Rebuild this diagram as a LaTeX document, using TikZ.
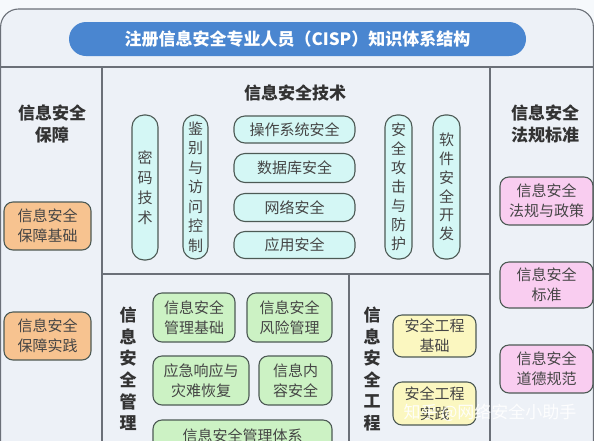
\documentclass[tikz,border=0pt]{standalone}
\usepackage{fontspec}
\newfontfamily\cjk{Noto Sans CJK SC}
\definecolor{bgfr}{HTML}{EDF1F7}
\definecolor{bgtop}{HTML}{F6F9FC}
\definecolor{frline}{HTML}{6B7078}
\definecolor{titleblue}{HTML}{4A86D0}
\definecolor{bdr}{HTML}{4D5A55}
\definecolor{fcyan}{HTML}{D4F7F5}
\definecolor{fgreen}{HTML}{CCF2C4}
\definecolor{fyellow}{HTML}{FBF7C0}
\definecolor{fpink}{HTML}{F9CDF0}
\definecolor{forange}{HTML}{F7C390}
\definecolor{txt}{HTML}{454545}
\definecolor{head}{HTML}{333333}
\tikzset{
  frame/.style={draw=frline, line width=1.1pt},
  boxbase/.style={draw=bdr, line width=1.1pt, text=txt, align=center, inner sep=0pt,
    font=\cjk\fontsize{15}{20}\selectfont},
  hpill/.style={boxbase, fill=fcyan, rounded corners=11},
  vpill/.style={boxbase, fill=fcyan, rounded corners=12},
  gbox/.style={boxbase, fill=fgreen, rounded corners=9},
  ybox/.style={boxbase, fill=fyellow, rounded corners=9},
  pbox/.style={boxbase, fill=fpink, rounded corners=9},
  obox/.style={boxbase, fill=forange, rounded corners=9},
  heading/.style={text=head, align=center, inner sep=0pt, font=\cjk\bfseries\fontsize{17}{22}\selectfont},
  vhead/.style={text=head, align=center, inner sep=0pt, font=\cjk\bfseries\fontsize{17}{21.6}\selectfont},
}
\begin{document}
\begin{tikzpicture}[x=1pt,y=-1pt]
\useasboundingbox (0,0) rectangle (594,440);
\clip (0,0) rectangle (594,440);
\fill[bgtop] (0,0) rectangle (594,440);
\fill[bgfr, rounded corners=18] (0.6,470) -- (0.6,9) -- (593.4,9) -- (593.4,470) -- cycle;
\draw[frame, rounded corners=18] (0.6,470) -- (0.6,9) -- (593.4,9) -- (593.4,470);
% title
\node[fill=titleblue, rounded corners=17, minimum width=457pt, minimum height=34pt, inner sep=0pt,
  text=white, font=\cjk\bfseries\fontsize{17}{20}\selectfont] (title) at (297.5,39) {注册信息安全专业人员（CISP）知识体系结构};
% grid lines
\coordinate (hl) at (0,67); \coordinate (hr) at (594,67);
\draw[frame] (hl) -- (hr);
\coordinate (v1t) at (102,67); \coordinate (v1b) at (102,445);
\draw[frame] (v1t) -- (v1b);
\coordinate (v2t) at (490,67); \coordinate (v2b) at (490,445);
\draw[frame] (v2t) -- (v2b);
\coordinate (h2l) at (102,274); \coordinate (h2r) at (490,274);
\draw[frame] (h2l) -- (h2r);
\coordinate (v3t) at (349,274); \coordinate (v3b) at (349,445);
\draw[frame] (v3t) -- (v3b);
% left column
\node[heading] (bzh) at (52,124) {信息安全\\保障};
\node[obox, minimum width=87pt, minimum height=48pt] (bzjc) at (47.5,226) {信息安全\\保障基础};
\node[obox, minimum width=87pt, minimum height=48pt] (bzsj) at (47.5,336) {信息安全\\保障实践};
% technology
\node[heading] (jsh) at (295,93) {信息安全技术};
\node[vpill, minimum width=26pt, minimum height=145pt, font=\cjk\fontsize{15}{20}\selectfont] (mm) at (145,187.5) {密\\码\\技\\术};
\node[vpill, minimum width=25pt, minimum height=144pt, font=\cjk\fontsize{15}{19.5}\selectfont] (jb) at (195.5,187) {鉴\\别\\与\\访\\问\\控\\制};
\node[hpill, minimum width=121pt, minimum height=27pt] (czxt) at (294.5,129.5) {操作系统安全};
\node[hpill, minimum width=121pt, minimum height=29pt] (sjk) at (294.5,168) {数据库安全};
\node[hpill, minimum width=121pt, minimum height=28pt] (wl) at (294.5,207.5) {网络安全};
\node[hpill, minimum width=121pt, minimum height=27pt] (yy) at (294.5,245) {应用安全};
\node[vpill, minimum width=27pt, minimum height=144pt, font=\cjk\fontsize{15}{19}\selectfont] (gj) at (398.5,187) {安\\全\\攻\\击\\与\\防\\护};
\node[vpill, minimum width=27pt, minimum height=144pt, font=\cjk\fontsize{15}{18.8}\selectfont] (rj) at (446.5,187) {软\\件\\安\\全\\开\\发};
% right column
\node[heading] (fgh) at (545,124) {信息安全\\法规标准};
\node[pbox, minimum width=93pt, minimum height=48pt] (fgzc) at (546.5,201) {信息安全\\法规与政策};
\node[pbox, minimum width=93pt, minimum height=46pt] (bz) at (546.5,285) {信息安全\\标准};
\node[pbox, minimum width=93pt, minimum height=48pt] (dd) at (546.5,369) {信息安全\\道德规范};
% management
\node[vhead] (glh) at (128,369) {信\\息\\安\\全\\管\\理};
\node[gbox, minimum width=82pt, minimum height=49pt] (gljc) at (194,317.5) {信息安全\\管理基础};
\node[gbox, minimum width=85pt, minimum height=49pt] (fx) at (289.5,317.5) {信息安全\\风险管理};
\node[gbox, minimum width=96pt, minimum height=49pt] (yj) at (201,380.5) {应急响应与\\灾难恢复};
\node[gbox, minimum width=73pt, minimum height=49pt] (nr) at (295.5,380.5) {信息内\\容安全};
\node[gbox, minimum width=179pt, minimum height=32pt] (tx) at (242.5,436) {信息安全管理体系};
% engineering
\node[vhead] (gch) at (372,369) {信\\息\\安\\全\\工\\程};
\node[ybox, minimum width=83pt, minimum height=42pt] (gcjc) at (434.5,336) {安全工程\\基础};
\node[ybox, minimum width=83pt, minimum height=43pt] (gcsj) at (434.5,403.5) {安全工程\\实践};
% watermark
\node[text=white, opacity=0.9, font=\cjk\fontsize{17}{20}\selectfont, inner sep=0pt] (wm) at (490,413) {知乎 @网络安全小助手};
\end{tikzpicture}
\end{document}
